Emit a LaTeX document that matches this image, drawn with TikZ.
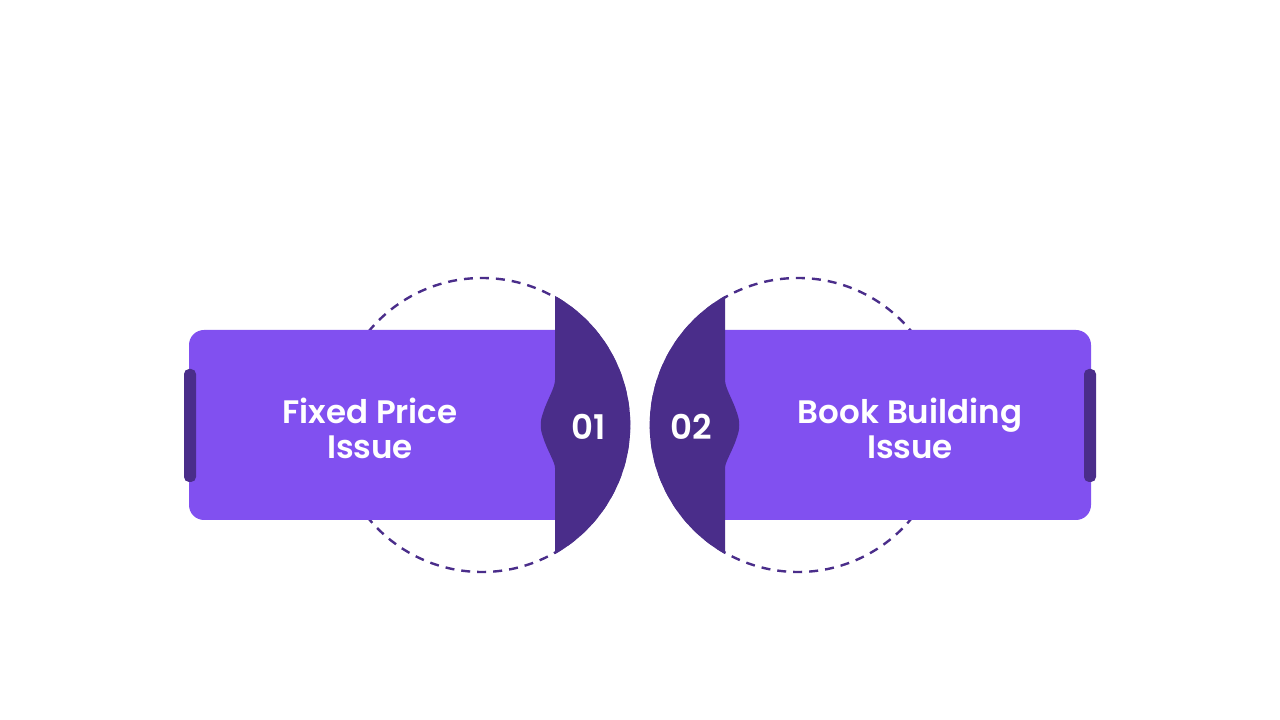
\documentclass[tikz,border=0pt]{standalone}
\usepackage{fontspec}
\setmainfont{Poppins}
\newfontfamily\medfont{Poppins SemiBold}
\definecolor{lightp}{RGB}{129,80,240}
\definecolor{darkp}{RGB}{74,45,138}
\begin{document}
\begin{tikzpicture}[x=1pt,y=1pt,
  panel/.style={fill=lightp,rounded corners=15pt},
  sidebar/.style={fill=darkp,rounded corners=5pt},
  dashcircle/.style={draw=darkp,line width=2.4pt,dash pattern=on 9pt off 7pt},
  seg/.style={fill=darkp},
  label/.style={text=white,font=\fontsize{32.5}{35}\medfont,align=center},
  num/.style={text=white,font=\fontsize{34}{36}\medfont}]
\useasboundingbox (0,0) rectangle (1280,720);
% dashed circles
\node[circle,minimum size=294pt,inner sep=0pt,dashcircle] (c1) at (482,295) {};
\node[circle,minimum size=294pt,inner sep=0pt,dashcircle] (c2) at (798,295) {};
% panels
\fill[panel] (189,200) rectangle (575,390);
\fill[panel] (705,200) rectangle (1091,390);
\fill[sidebar] (184,238) rectangle (196,351);
\fill[sidebar] (1084,238) rectangle (1096,351);
% dark segments
\fill[seg] (555,424.1) arc[start angle=60.51,end angle=-60.51,radius=148.3]
  -- (555,252) .. controls (555,258) and (547,270) .. (543,283)
  .. controls (540,291) and (540,299) .. (543,307)
  .. controls (547,320) and (555,332) .. (555,340) -- cycle;
\fill[seg] (725,424.1) arc[start angle=119.49,end angle=240.51,radius=148.3]
  -- (725,252) .. controls (725,258) and (733,270) .. (737,283)
  .. controls (740,291) and (740,299) .. (737,307)
  .. controls (733,320) and (725,332) .. (725,340) -- cycle;
% texts
\node[label] (t1) at (370,292) {Fixed Price\\Issue};
\node[label] (t2) at (910,292) {Book Building\\Issue};
\node[num] (n1) at (589,293) {01};
\node[num] (n2) at (691,293) {02};
\end{tikzpicture}
\end{document}
